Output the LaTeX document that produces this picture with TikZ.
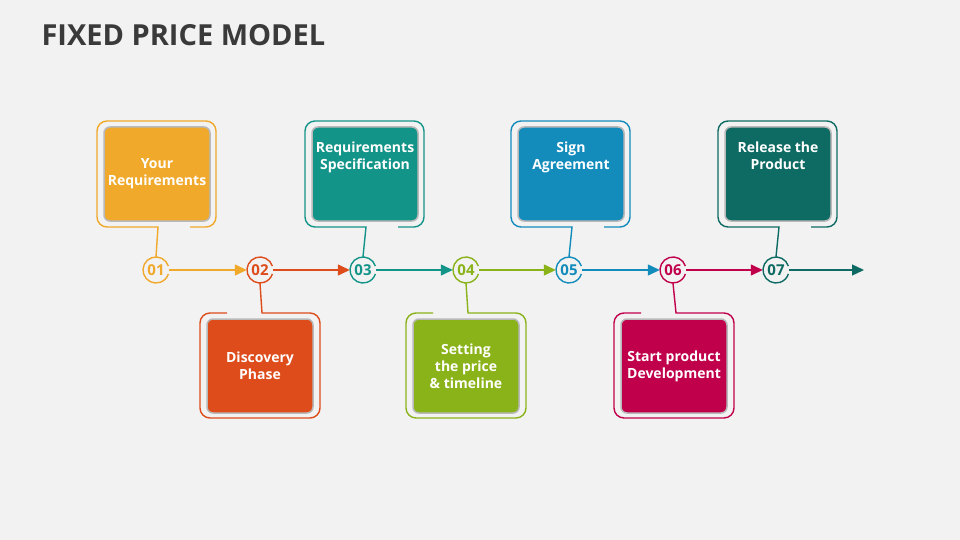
\documentclass[tikz,border=0pt]{standalone}
\usepackage{fontspec}
\setmainfont{Open Sans}
\usetikzlibrary{arrows.meta}
\definecolor{cA}{HTML}{F0A92A}
\definecolor{cB}{HTML}{DD4C1A}
\definecolor{cC}{HTML}{139488}
\definecolor{cD}{HTML}{8AB219}
\definecolor{cE}{HTML}{138CBC}
\definecolor{cF}{HTML}{C1004C}
\definecolor{cG}{HTML}{0E6B63}
\definecolor{bg}{HTML}{F2F2F2}
\definecolor{ttl}{HTML}{3A3A3A}
\tikzset{
  inner/.style={draw=gray!55, line width=1.5pt, rounded corners=6pt, minimum width=106pt, minimum height=94pt, text=white, font=\bfseries\fontsize{14}{17}\selectfont, align=center, inner sep=0pt},
  num/.style={circle, minimum size=26pt, inner sep=0pt, font=\bfseries\fontsize{15}{15}\selectfont},
  outl/.style={line width=1.4pt},
  conn/.style={line width=1.3pt, -{Triangle[length=12pt,width=11pt]}}
}
\newcommand{\topitem}[4]{% name, x, color, text
  \node[inner, fill=#3] (b#1) at (#2,174) {#4};
  \draw[outl,#3,rounded corners=10pt] (#2+33,227) -- (#2+59,227) -- (#2+59,121) -- (#2-60,121) -- (#2-60,227) [sharp corners]-- (#2+1,227) -- (c#1.north);
}
\newcommand{\botitem}[4]{%
  \node[inner, fill=#3] (b#1) at (#2,366) {#4};
  \draw[outl,#3,rounded corners=10pt] (#2-33,313) -- (#2-60,313) -- (#2-60,418) -- (#2+60,418) -- (#2+60,313) [sharp corners]-- (#2+2,313) -- (c#1.south);
}
\newcommand{\circitem}[3]{% name,x,color
  \node[num, text=#3] (c#1) at (#2,270) {0#1};
  \draw[outl,#3] ([shift={(18:13pt)}]#2,270) arc[start angle=18,end angle=342,radius=13pt];
}
\begin{document}
\begin{tikzpicture}[x=1pt,y=-1pt]
\fill[bg] (0,0) rectangle (960,540);
\useasboundingbox (0,0) rectangle (960,540);
\node[anchor=west, text=ttl, font=\bfseries\fontsize{29}{29}\selectfont] (title) at (38,35) {FIXED PRICE MODEL};
\circitem{1}{156}{cA}
\circitem{2}{260}{cB}
\circitem{3}{363}{cC}
\circitem{4}{466}{cD}
\circitem{5}{569}{cE}
\circitem{6}{673}{cF}
\circitem{7}{776}{cG}
\coordinate (end) at (864,270);
\topitem{1}{157}{cA}{Your\\Requirements}
\botitem{2}{260}{cB}{Discovery\\Phase}
\topitem{3}{365}{cC}{Requirements\\Specification\\[20pt]}
\botitem{4}{466}{cD}{Setting\\the price\\\& timeline}
\topitem{5}{571}{cE}{Sign\\Agreement\\[20pt]}
\botitem{6}{674}{cF}{Start product\\Development}
\topitem{7}{778}{cG}{Release the\\Product\\[20pt]}
\draw[conn,cA] (c1.east) -- (c2.west);
\draw[conn,cB] (c2.east) -- (c3.west);
\draw[conn,cC] (c3.east) -- (c4.west);
\draw[conn,cD] (c4.east) -- (c5.west);
\draw[conn,cE] (c5.east) -- (c6.west);
\draw[conn,cF] (c6.east) -- (c7.west);
\draw[conn,cG] (c7.east) -- (end);
\end{tikzpicture}
\end{document}
